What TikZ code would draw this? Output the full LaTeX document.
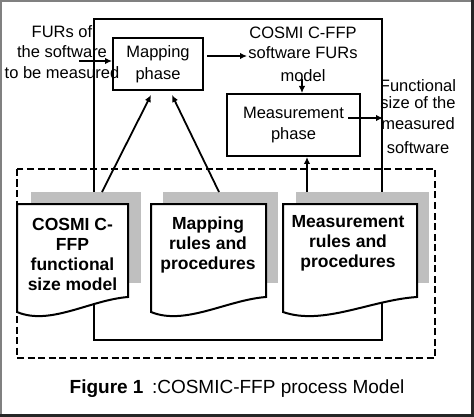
\documentclass[tikz,border=0pt]{standalone}
\usepackage{fontspec}
\setmainfont{Liberation Sans}
\usetikzlibrary{arrows.meta}
\begin{document}
\begin{tikzpicture}[x=1pt,y=-1pt,
  reg/.style={font=\fontsize{16.5}{21}\selectfont,inner sep=0pt,align=center},
  bld/.style={font=\fontsize{17.5}{20}\selectfont\bfseries,inner sep=0pt,align=center},
  phasebox/.style={draw,line width=2pt,fill=white,inner sep=0pt,align=center,font=\fontsize{16.5}{21}\selectfont},
  docshape/.style={draw,line width=2pt,fill=white},
  shadowbox/.style={fill=black!25,inner sep=0pt},
  arr/.style={line width=1.8pt,-{Latex[length=7pt,width=6.5pt]}},
  frameline/.style={line width=2pt}]
\useasboundingbox (0,0) rectangle (474,417);
% frame
\fill[white] (0,0) rectangle (474,417);
\fill[black!50] (0,0) rectangle (474,2.5);
\fill[black!50] (0,0) rectangle (2,417);
\fill[black!85] (471,0) rectangle (474,417);
\fill[black!85] (0,414) rectangle (474,417);
% big process rectangle
\draw[frameline] (94,19) rectangle (382,340);
% dashed group
\draw[line width=2pt,dash pattern=on 7pt off 3.5pt] (17,169) rectangle (435,358);
% phase boxes
\node[phasebox,minimum width=90pt,minimum height=52pt] (map) at (158,64) {Mapping\\[1pt]phase};
\node[phasebox,minimum width=133pt,minimum height=62pt] (meas) at (293.5,125) {Measurement\\[0pt]phase};
% labels
\node[reg] (fur) at (62,52) {FURs of\\[-1pt]the software\\[0pt]to be measured};
\node[reg] (model) at (303,54) {COSMI C-FFP\\[-1pt]software FURs\\[2pt]model};
\node[reg] (fsize) at (418,116.5) {Functional\\[-4pt]size of the\\[0pt]measured\\[3pt]software};
% shadows
\node[shadowbox,minimum width=110pt,minimum height=91pt] (sh1) at (86,237.5) {};
\node[shadowbox,minimum width=115pt,minimum height=91pt] (sh2) at (220.5,237.5) {};
\node[shadowbox,minimum width=133pt,minimum height=91pt] (sh3) at (362.5,237.5) {};
% documents
\draw[docshape] (17,204) -- (128,204) -- (128,297) .. controls (90,300) and (50,326) .. (17,312) -- cycle;
\draw[docshape] (151,204) -- (266,204) -- (266,297) .. controls (227,300) and (185,326) .. (151,312) -- cycle;
\draw[docshape] (283,204) -- (417,204) -- (417,297) .. controls (371,300) and (323,326) .. (283,312) -- cycle;
\node[bld] (d1) at (72.5,254.5) {COSMI C-\\FFP\\functional\\size model};
\node[bld] (d2) at (208,245) {Mapping\\rules and\\procedures};
\node[bld] (d3) at (348,243) {Measurement\\rules and\\procedures};
% connectors
\coordinate (furin) at (79,61);
\draw[arr] (furin) -- (furin -| map.west);
\coordinate (mapout) at (207,56);
\coordinate (modelin) at (247,56);
\draw[arr] (mapout) -- (modelin);
\coordinate (modelout) at (302,79);
\draw[arr] (modelout) -- (modelout |- meas.north);
\coordinate (measout) at (348,118);
\coordinate (fsizein) at (383,118);
\draw[arr] (measout) -- (fsizein);
\coordinate (s1top) at (102,192);
\coordinate (m1) at (151,95);
\draw[arr] (s1top) -- (m1);
\coordinate (s2top) at (219,192);
\coordinate (m2) at (172,95);
\draw[arr] (s2top) -- (m2);
\coordinate (s3top) at (307,192);
\draw[arr] (s3top) -- (s3top |- meas.south);
% caption
\node[inner sep=0pt,font=\fontsize{19}{22}\selectfont] (cap) at (237,389) {\textbf{Figure 1} \,:COSMIC-FFP process Model};
\end{tikzpicture}
\end{document}
